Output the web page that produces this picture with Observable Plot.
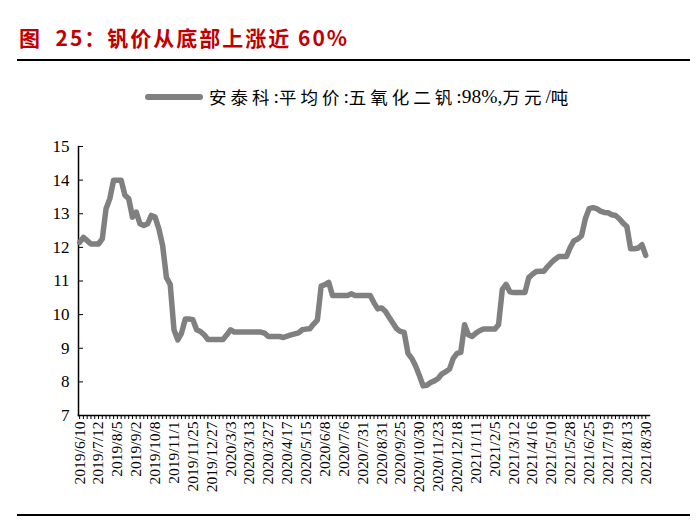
<!DOCTYPE html>
<html>
<head>
<meta charset="utf-8">
<script src="https://cdn.jsdelivr.net/npm/d3@7"></script>
<script src="https://cdn.jsdelivr.net/npm/@observablehq/plot@0.6"></script>
<style>
  body { margin: 0; background: #fff; }
  #wrap { position: relative; width: 698px; height: 523px; overflow: hidden; background: #fff; }
  #title { position: absolute; left: 19px; top: 22px; font-family: "Noto Sans CJK SC", sans-serif; font-weight: bold; font-size: 21px; color: #C00000; letter-spacing: 2px; white-space: nowrap; }
  .rule { position: absolute; left: 17px; width: 673px; height: 2px; background: #000; }
  #legend { position: absolute; left: 145px; top: 84px; display: flex; align-items: center; white-space: nowrap; font-family: "Liberation Serif", "Noto Sans CJK SC", serif; font-size: 17.5px; color: #000; }
  #legend .cjk { letter-spacing: 4px; }
  #legend .lat { font-size: 19.5px; }
  #chart { position: absolute; left: 0; top: 120px; }
</style>
</head>
<body>
<div id="wrap">
  <div id="title">图&nbsp;&nbsp;25：钒价从底部上涨近 60%</div>
  <div class="rule" style="top:59px"></div>
  <div id="legend"></div>
  <div id="chart"></div>
  <div class="rule" style="top:514px"></div>
</div>
<script>
const seriesName = "安泰科:平均价:五氧化二钒:98%,万元/吨";
const dateLabels = [
  "2019/6/10","2019/7/12","2019/8/5","2019/9/2","2019/10/8","2019/11/1","2019/11/25","2019/12/27",
  "2020/3/3","2020/3/13","2020/3/27","2020/4/17","2020/5/15","2020/6/8","2020/7/6","2020/7/31",
  "2020/8/31","2020/9/25","2020/10/30","2020/11/23","2020/12/18","2021/1/11","2021/2/5","2021/3/12",
  "2021/4/16","2021/5/10","2021/5/28","2021/6/25","2021/7/19","2021/8/13","2021/8/30"
];
const pointsPerLabel = 5;
const prices = [
  12.15, 12.3, 12.2, 12.1, 12.1, 12.1, 12.25, 13.15, 13.45, 14.0,
  14.0, 14.0, 13.55, 13.45, 12.9, 13.05, 12.7, 12.65, 12.7, 12.95,
  12.9, 12.55, 12.05, 11.1, 10.9, 9.55, 9.25, 9.45, 9.87, 9.87,
  9.85, 9.55, 9.5, 9.4, 9.26, 9.26, 9.26, 9.26, 9.26, 9.4,
  9.55, 9.48, 9.48, 9.48, 9.48, 9.48, 9.48, 9.48, 9.48, 9.45,
  9.35, 9.35, 9.35, 9.35, 9.32, 9.36, 9.4, 9.43, 9.46, 9.55,
  9.57, 9.58, 9.72, 9.84, 10.85, 10.89, 10.96, 10.57, 10.57, 10.57,
  10.57, 10.57, 10.62, 10.57, 10.57, 10.57, 10.57, 10.57, 10.35, 10.17,
  10.2, 10.1, 9.92, 9.75, 9.58, 9.5, 9.47, 8.85, 8.7, 8.48,
  8.2, 7.88, 7.9, 7.98, 8.03, 8.1, 8.24, 8.3, 8.38, 8.7,
  8.85, 8.88, 9.7, 9.4, 9.35, 9.45, 9.52, 9.57, 9.57, 9.57,
  9.57, 9.7, 10.75, 10.9, 10.68, 10.66, 10.66, 10.66, 10.66, 11.1,
  11.2, 11.28, 11.29, 11.29, 11.43, 11.55, 11.65, 11.73, 11.73, 11.73,
  12.0, 12.2, 12.25, 12.35, 12.85, 13.15, 13.18, 13.15, 13.08, 13.04,
  13.03, 12.97, 12.95, 12.85, 12.72, 12.62, 11.96, 11.96, 11.98, 12.08,
  11.76
];
const yTicks = [7, 8, 9, 10, 11, 12, 13, 14, 15];
const lineColor = "#808080";

const data = prices.map((v, i) => ({i, v}));
const allIdx = d3.range(prices.length);
const labelIdx = dateLabels.map((_, k) => k * pointsPerLabel);

const chart = Plot.plot({
  width: 698,
  height: 403,
  marginLeft: 78,
  marginRight: 49,
  marginTop: 26,
  marginBottom: 108,
  x: {domain: [-0.3, prices.length], axis: null},
  y: {domain: [7, 15], axis: null},
  style: {fontFamily: "'Liberation Serif', 'Noto Sans CJK SC', serif", color: "#000", background: "transparent", overflow: "visible"},
  marks: [
    Plot.axisY({ticks: yTicks, tickSize: -5, tickPadding: 14, fontSize: 17, tickFormat: d => d, stroke: "#000", label: null}),
    Plot.axisX({ticks: allIdx, tickSize: 4, tickFormat: () => "", stroke: "#000", label: null}),
    Plot.axisX({ticks: labelIdx, tickSize: 0, tickPadding: 6, tickRotate: -90, fontSize: 15.5, tickFormat: d => dateLabels[d / pointsPerLabel], label: null}),
    Plot.frame({anchor: "left", stroke: "#000", strokeWidth: 1.5}),
    Plot.frame({anchor: "bottom", stroke: "#000", strokeWidth: 1.5}),
    Plot.line(data, {x: "i", y: "v", stroke: lineColor, strokeWidth: 5.5, strokeLinejoin: "round", strokeLinecap: "round"})
  ]
});
document.getElementById("chart").appendChild(chart);

const legend = document.getElementById("legend");
const parts = seriesName.match(/[\u4e00-\u9fff]+|[^\u4e00-\u9fff]+/g);
const textHtml = parts.map(p => /[\u4e00-\u9fff]/.test(p) ? `<span class="cjk">${p}</span>` : `<span class="lat">${p}</span>`).join("");
legend.innerHTML = `<svg width="58" height="12" style="margin-right:6px"><line x1="3" y1="6" x2="55" y2="6" stroke="${lineColor}" stroke-width="6" stroke-linecap="round"/></svg>${textHtml}`;
</script>
</body>
</html>
